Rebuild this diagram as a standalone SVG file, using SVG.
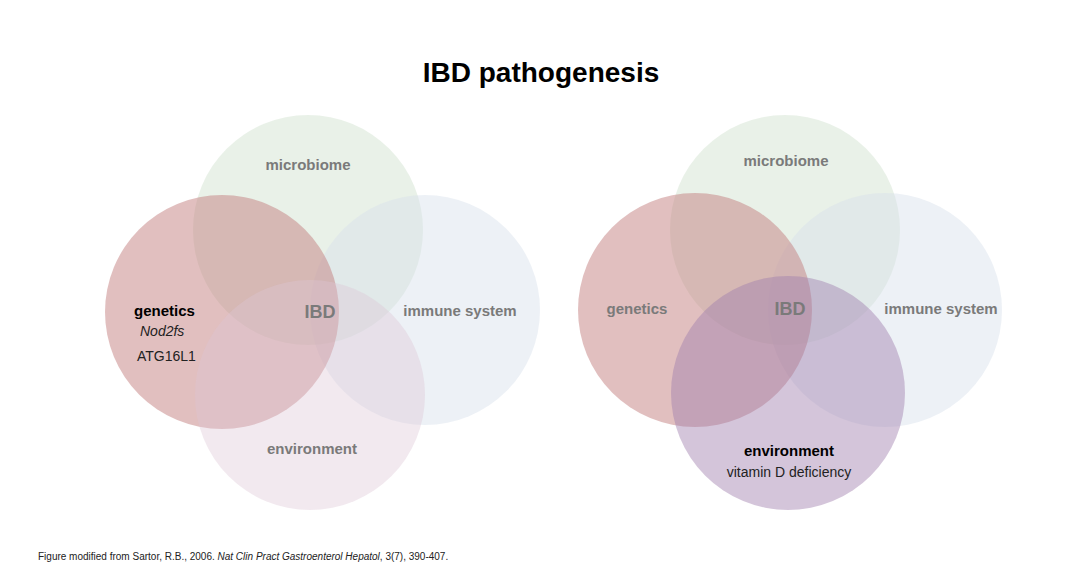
<svg xmlns="http://www.w3.org/2000/svg" width="1083" height="576" viewBox="0 0 1083 576">
<style>
text{font-family:"Liberation Sans",Arial,sans-serif;}
.lbl{font-size:15px;font-weight:bold;fill:#7a7a7a;text-anchor:middle}
.ibd{font-size:18px;font-weight:bold;fill:#7a7a7a;text-anchor:middle}
.mic{fill:#cfdfcc;fill-opacity:0.45}
.imm{fill:#d6dfec;fill-opacity:0.45}
.gen{fill:#c47f80;fill-opacity:0.5}
.env{fill:#dcc6d6;fill-opacity:0.38}
.env2{fill:#9f7fac;fill-opacity:0.45}
</style>
<rect width="1083" height="576" fill="#fff"/>
<text x="541" y="82" font-size="28" font-weight="bold" text-anchor="middle" fill="#000">IBD pathogenesis</text>
<g id="left">
<circle class="mic" cx="308" cy="230" r="115"/>
<circle class="imm" cx="425" cy="310" r="115"/>
<circle class="gen" cx="222" cy="312" r="117"/>
<circle class="env" cx="310" cy="395" r="115"/>
<text class="lbl" x="308" y="170">microbiome</text>
<text class="lbl" x="460" y="316">immune system</text>
<text class="lbl" x="312" y="454">environment</text>
<text class="ibd" x="320" y="318">IBD</text>
<text x="134" y="316" font-size="15" font-weight="bold" fill="#000">genetics</text>
<text x="140" y="336" font-size="14" font-style="italic" fill="#222">Nod2fs</text>
<text x="137" y="361" font-size="14" fill="#222">ATG16L1</text>
</g>
<g id="right">
<circle class="mic" cx="785" cy="230" r="115"/>
<circle class="imm" cx="885" cy="310" r="117"/>
<circle class="gen" cx="695" cy="310" r="117"/>
<circle class="env2" cx="788" cy="393" r="117"/>
<text class="lbl" x="786" y="166">microbiome</text>
<text class="lbl" x="941" y="314">immune system</text>
<text class="lbl" x="637" y="314">genetics</text>
<text class="ibd" x="790" y="315">IBD</text>
<text x="789" y="456" font-size="15" font-weight="bold" fill="#000" text-anchor="middle">environment</text>
<text x="789" y="477" font-size="14" fill="#222" text-anchor="middle">vitamin D deficiency</text>
</g>
<text x="38" y="560" font-size="10" fill="#222">Figure modified from Sartor, R.B., 2006. <tspan font-style="italic">Nat Clin Pract Gastroenterol Hepatol</tspan>, 3(7), 390-407.</text>
</svg>
